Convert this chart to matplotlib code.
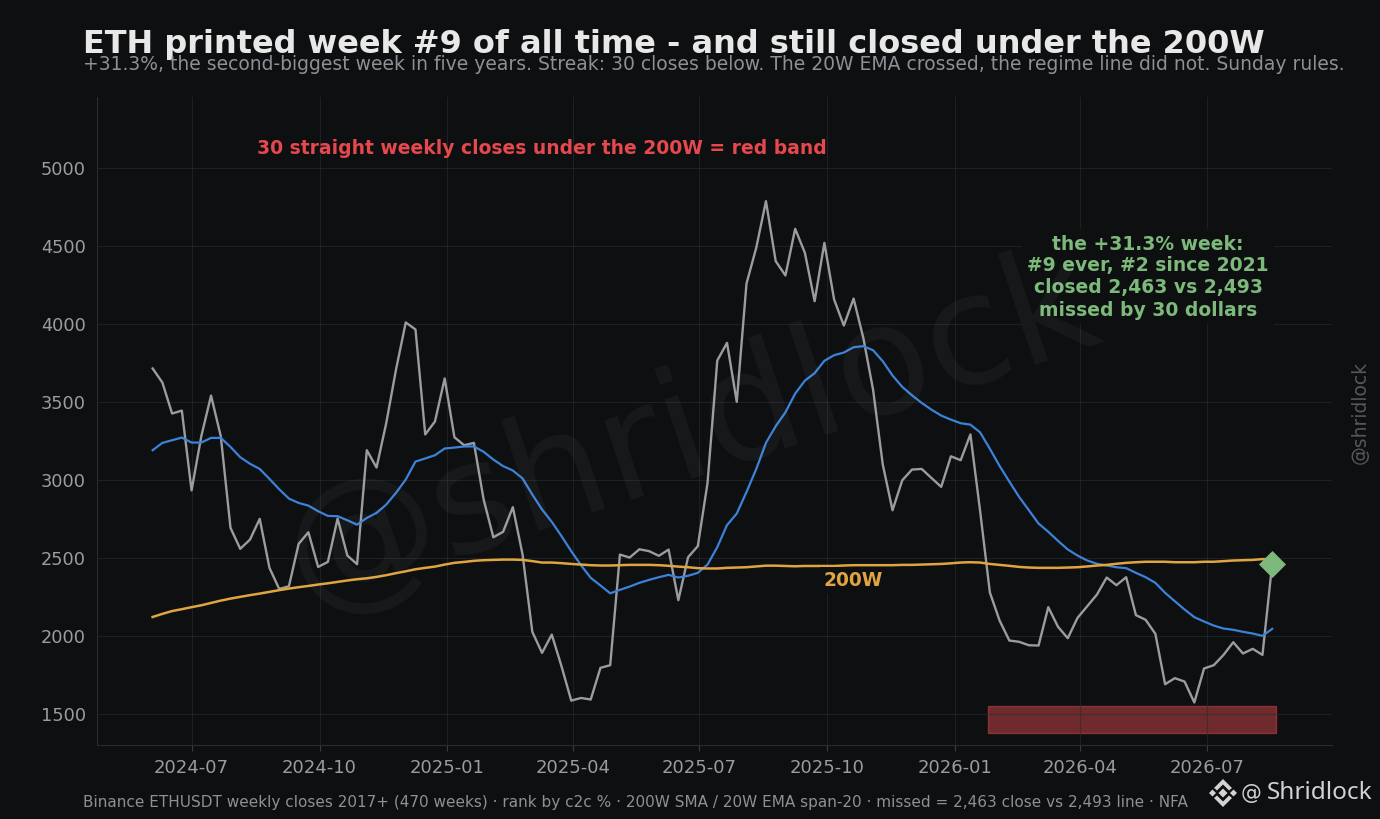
import matplotlib
matplotlib.use("Agg")
import matplotlib.pyplot as plt
import matplotlib.dates as mdates
from matplotlib.patches import Polygon
import pandas as pd

# weekly closes
close = [3715, 3625, 3426, 3445, 2933, 3281, 3541, 3281, 2693, 2559, 2618, 2751,
         2437, 2302, 2319, 2591, 2665, 2443, 2475, 2753, 2516, 2460, 3191, 3080,
         3366, 3708, 4010, 3965, 3292, 3375, 3651, 3274, 3223, 3238, 2875, 2633,
         2668, 2826, 2522, 2027, 1892, 2009, 1806, 1586, 1603, 1593, 1796, 1813,
         2522, 2503, 2556, 2544, 2514, 2554, 2230, 2505, 2576, 2982, 3766, 3879,
         3501, 4259, 4488, 4787, 4403, 4311, 4610, 4456, 4146, 4520, 4157, 3990,
         4163, 3911, 3580, 3099, 2806, 2998, 3067, 3071, 3013, 2956, 3152, 3127,
         3292, 2800, 2279, 2099, 1971, 1963, 1941, 1939, 2185, 2059, 1986, 2116,
         2191, 2266, 2375, 2326, 2377, 2134, 2104, 2014, 1691, 1730, 1708, 1574,
         1792, 1813, 1879, 1960, 1888, 1918, 1879, 2463]
ema20 = [3191, 3238, 3255, 3272, 3240, 3240, 3270, 3270, 3212, 3146, 3104, 3071,
         3007, 2941, 2881, 2853, 2836, 2800, 2770, 2768, 2742, 2714, 2757, 2789,
         2843, 2918, 3003, 3118, 3138, 3159, 3202, 3208, 3215, 3215, 3181, 3131,
         3089, 3061, 3010, 2907, 2811, 2732, 2640, 2544, 2454, 2373, 2324, 2274,
         2296, 2317, 2341, 2360, 2377, 2392, 2375, 2386, 2405, 2458, 2570, 2711,
         2785, 2923, 3070, 3238, 3345, 3434, 3554, 3637, 3685, 3764, 3800, 3817,
         3851, 3858, 3832, 3761, 3670, 3597, 3543, 3494, 3451, 3413, 3387, 3364,
         3355, 3305, 3200, 3090, 2990, 2892, 2807, 2721, 2668, 2610, 2555, 2516,
         2484, 2463, 2452, 2441, 2435, 2405, 2377, 2341, 2277, 2223, 2170, 2121,
         2093, 2067, 2048, 2040, 2027, 2016, 2001, 2046]
sma200 = [2122, 2142, 2160, 2172, 2185, 2197, 2212, 2227, 2240, 2251, 2262, 2272,
          2283, 2294, 2304, 2313, 2321, 2330, 2338, 2347, 2356, 2364, 2370, 2379,
          2390, 2403, 2415, 2428, 2437, 2445, 2458, 2469, 2475, 2482, 2486, 2488,
          2490, 2490, 2488, 2480, 2471, 2471, 2467, 2462, 2458, 2454, 2452, 2452,
          2454, 2456, 2456, 2456, 2454, 2450, 2445, 2441, 2435, 2433, 2433, 2437,
          2439, 2441, 2446, 2451, 2451, 2449, 2447, 2449, 2449, 2449, 2449, 2452,
          2454, 2454, 2454, 2454, 2454, 2456, 2456, 2458, 2460, 2462, 2466, 2471,
          2473, 2471, 2462, 2456, 2450, 2443, 2439, 2437, 2437, 2437, 2439, 2441,
          2446, 2452, 2456, 2463, 2469, 2473, 2476, 2476, 2476, 2473, 2473, 2473,
          2476, 2476, 2480, 2484, 2486, 2488, 2493, 2493]
first_week = "2024-06-03"
band_start = "2026-01-25"
band_end = "2026-08-20"
band_low, band_high = 1381, 1554
last_close = 2463
y_ticks = [1500, 2000, 2500, 3000, 3500, 4000, 4500, 5000]
x_ticks = ["2024-07", "2024-10", "2025-01", "2025-04", "2025-07",
           "2025-10", "2026-01", "2026-04", "2026-07"]

BG = "#0d0f11"
weeks = pd.date_range(first_week, periods=len(close), freq="7D")

plt.rcParams["font.family"] = "DejaVu Sans"
fig = plt.figure(figsize=(13.8, 8.19), dpi=100, facecolor=BG)
ax = fig.add_axes([97 / 1380, 1 - 745 / 819, (1332 - 97) / 1380, (745 - 97) / 819], facecolor=BG)

ax.fill_between(pd.to_datetime([band_start, band_end]), band_low, band_high,
                color="#e64c4f", alpha=0.45, lw=1, zorder=1)
ax.plot(weeks, close, color="#9a9ca0", lw=1.7, zorder=3)
ax.plot(weeks, ema20, color="#3b82d8", lw=1.6, zorder=3)
ax.plot(weeks, sma200, color="#e0a540", lw=1.8, zorder=3)
ax.scatter(weeks[-1], last_close, marker="D", s=190, color="#7cb97a", zorder=5, lw=0)

ax.set_xlim(pd.Timestamp("2024-04-24"), pd.Timestamp("2026-09-29"))
ax.set_ylim(1301.5, 5455)
ax.set_yticks(y_ticks)
ax.set_xticks(pd.to_datetime(x_ticks))
ax.xaxis.set_major_formatter(mdates.DateFormatter("%Y-%m"))
ax.tick_params(axis="y", labelsize=12.8, colors="#9a9ca0", length=0, pad=8)
ax.tick_params(axis="x", labelsize=13, colors="#9a9ca0", length=4, color="#3a3c40", pad=6)
ax.grid(True, color="#2a2c30", lw=0.8, alpha=0.6)
for side in ["top", "right"]:
    ax.spines[side].set_visible(False)
for side in ["left", "bottom"]:
    ax.spines[side].set_color("#2a2c30")

ax.text(pd.Timestamp("2025-10-20"), 2356, "200W", color="#e0a540", fontsize=13.4,
        fontweight="bold", ha="center", va="center", zorder=4,
        bbox=dict(facecolor=BG, edgecolor="none", alpha=0.85, pad=2.5))

# overlay in pixel coordinates for everything around the plot
over = fig.add_axes([0, 0, 1, 1], facecolor="none")
over.set_xlim(0, 1380)
over.set_ylim(819, 0)
over.axis("off")

over.text(83, 44, "ETH printed week #9 of all time - and still closed under the 200W",
          color="#e8e8e8", fontsize=23.02, fontweight="bold", ha="left", va="center")
over.text(83, 64, "+31.3%, the second-biggest week in five years. Streak: 30 closes below. "
          "The 20W EMA crossed, the regime line did not. Sunday rules.",
          color="#8d9095", fontsize=13.49, ha="left", va="center")
over.text(542, 149, "30 straight weekly closes under the 200W = red band", color="#e5484d",
          fontsize=13.5, fontweight="bold", ha="center", va="center")
over.text(1148, 277, "the +31.3% week:\n#9 ever, #2 since 2021\nclosed 2,463 vs 2,493\nmissed by 30 dollars",
          color="#7cb97a", fontsize=13.5, fontweight="bold", ha="center", va="center",
          linespacing=1.2, bbox=dict(facecolor=BG, edgecolor="none", alpha=0.9, pad=4))
over.text(692, 432, "@shridlock", color="#ffffff", alpha=0.045, fontsize=111, rotation=18.5,
          ha="center", va="center")
over.text(1360, 412, "@shridlock", color="#55585c", fontsize=13.5, rotation=90,
          ha="center", va="center")
over.text(83, 802, "Binance ETHUSDT weekly closes 2017+ (470 weeks) · rank by c2c % · "
          "200W SMA / 20W EMA span-20 · missed = 2,463 close vs 2,493 line · NFA",
          color="#8d9095", fontsize=11.02, ha="left", va="center")

# logo
logo_cx, logo_cy = 1223, 793
logo_parts = [
    [(-14, 0), (-10.5, -3.5), (-7, 0), (-10.5, 3.5)],
    [(14, 0), (10.5, -3.5), (7, 0), (10.5, 3.5)],
    [(0, -4.5), (4.5, 0), (0, 4.5), (-4.5, 0)],
    [(0, -14), (9, -5), (6, -2.5), (0, -8.5), (-6, -2.5), (-9, -5)],
    [(0, 14), (9, 5), (6, 2.5), (0, 8.5), (-6, 2.5), (-9, 5)],
]
for part in logo_parts:
    over.add_patch(Polygon([(logo_cx + dx, logo_cy + dy) for dx, dy in part], closed=True,
                           facecolor="#d2d2d2", edgecolor="none"))
over.text(1241, 793, "@", color="#d2d2d2", fontsize=15, ha="left", va="center")
over.text(1267, 793, "Shridlock", color="#d2d2d2", fontsize=17.5, family="Noto Sans",
          ha="left", va="center")

fig.savefig("out.png", dpi=100, facecolor=BG)
